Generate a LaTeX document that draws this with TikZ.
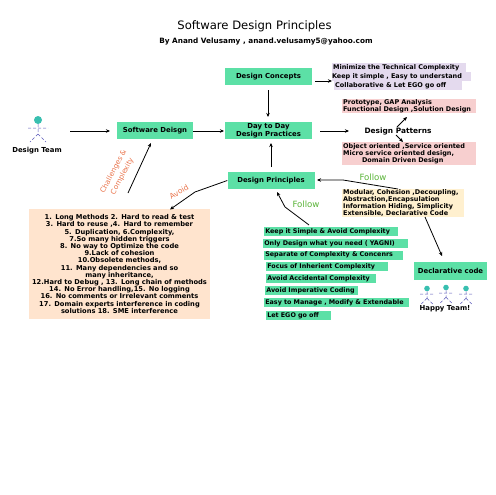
\documentclass[tikz,border=0pt]{standalone}
\usepackage{fontspec}
\setmainfont{DejaVu Sans}
\usetikzlibrary{arrows.meta}
\definecolor{boxgreen}{HTML}{5CE0A6}
\definecolor{notepurple}{HTML}{E4DAEE}
\definecolor{notered}{HTML}{F7CFCF}
\definecolor{noteyellow}{HTML}{FFF0CF}
\definecolor{noteorange}{HTML}{FFE4CE}
\definecolor{labelorange}{HTML}{E9744C}
\definecolor{labelgreen}{HTML}{58B336}
\definecolor{stickblue}{HTML}{5A58B8}
\definecolor{stickhead}{HTML}{38BFB0}

\begin{document}
\begin{tikzpicture}[x=1pt,y=-1pt,
  concept/.style={rectangle, fill=boxgreen, minimum width=#1, minimum height=17.5pt, inner sep=0pt, align=center, font=\fontsize{6.9}{8}\selectfont\bfseries},
  strip/.style={rectangle, fill=boxgreen, anchor=west, text width=#1, minimum height=9pt, inner sep=0pt, align=left, font=\fontsize{6.4}{7}\selectfont\bfseries},
  note/.style={rectangle, fill=#1, inner sep=0pt, align=left, font=\fontsize{6.5}{7.2}\selectfont\bfseries},
  plain/.style={inner sep=0pt, align=center, font=\fontsize{6.9}{8}\selectfont\bfseries},
  tag/.style={inner sep=0pt, align=center, font=\fontsize{#1}{10}\selectfont},
  arr/.style={-{Stealth[length=4pt,width=3.5pt]}, line width=0.8pt, black},
  pics/stickman/.style={code={
    \fill[stickhead] (0,-#1*10) circle (#1*4pt);
    \draw[stickblue, densely dashed, line width=0.5pt] (0,-#1*6) -- (0,#1*4) (-#1*10,-#1*2) -- (#1*10,-#1*2) (0,#1*4) -- (-#1*8,#1*12) (0,#1*4) -- (#1*8,#1*12);
  }}
]
  \useasboundingbox (0,0) rectangle (495,495);

  \node[plain, font=\fontsize{11.6}{13}\selectfont] (title) at (254.5,26) {Software Design Principles};
  \node[plain, font=\fontsize{7.3}{8}\selectfont\bfseries] (author) at (266,42) {By Anand Velusamy , anand.velusamy5@yahoo.com};

  \node[concept=87pt] (concepts) at (268.5,76.5) {Design Concepts};
  \node[concept=87pt] (practices) at (268.5,130.5) {Day to Day\\Design Practices};
  \node[concept=76pt] (software) at (155,130.5) {Software Deisgn};
  \node[concept=87pt] (principles) at (271,180.5) {Design Principles};
  \node[concept=73pt] (declarative) at (450.5,271) {Declarative code};

  \node[note=notepurple, text width=134pt, minimum height=9.2pt] (min) at (399,67.5) {\,Minimize the Technical Complexity};
  \node[note=notepurple, text width=139pt, minimum height=9.2pt] (simple) at (401.5,76.5) {Keep it simple , Easy to understand};
  \node[note=notepurple, text width=128pt, minimum height=9.2pt] (collab) at (398,85.5) {\,Collaborative \& Let EGO go off};

  \node[note=notered, text width=134pt, minimum height=14pt] (proto) at (409,106) {\,Prototype, GAP Analysis\\\,Functional Design ,Solution Design};
  \node[note=notered, text width=134pt, minimum height=23pt] (object) at (409,153.5) {\,Object oriented ,Service oriented\\\,Micro service oriented design,\\\hspace*{20pt}Domain Driven Design};
  \node[plain, font=\fontsize{7.4}{8}\selectfont\bfseries] (patterns) at (398,131) {Design Patterns};

  \node[note=noteyellow, text width=122pt, minimum height=28pt] (modular) at (403,203) {\,Modular, Cohesion ,Decoupling,\\\,Abstraction,Encapsulation\\\,Information Hiding, Simplicity\\\,Extensible, Declarative Code};

  \node[note=noteorange, align=center, text width=181pt, minimum height=110pt, font=\fontsize{6.7}{7.2}\selectfont\bfseries] (avoidbox) at (119.5,264) {1. Long Methods 2. Hard to read \& test\\3. Hard to reuse ,4. Hard to remember\\5. Duplication, 6.Complexity,\\7.So many hidden triggers\\8. No way to Optimize the code\\9.Lack of cohesion\\10.Obsolete methods,\\11. Many dependencies and so\\many inheritance,\\12.Hard to Debug , 13. Long chain of methods\\14. No Error handling,15. No logging\\16. No comments or Irrelevant comments\\17. Domain experts interference in coding\\solutions 18. SME interference};

  \node[strip=134pt] (s1) at (264,231.5) {\,Keep it Simple \& Avoid Complexity};
  \node[strip=145pt] (s2) at (263,243.5) {\,Only Design what you need ( YAGNI)};
  \node[strip=139pt] (s3) at (264,255) {\,Separate of Complexity \& Concenrs};
  \node[strip=122pt] (s4) at (266,266.5) {\,Focus of Inherient Complexity};
  \node[strip=110pt] (s5) at (266,278.5) {\,Avoid Accidental Complexity};
  \node[strip=93pt]  (s6) at (265,290.5) {\,Avoid Imperative Coding};
  \node[strip=145pt] (s7) at (264,302.5) {\,Easy to Manage , Modify \& Extendable};
  \node[strip=65pt]  (s8) at (266,315.5) {\,Let EGO go off};

  \pic at (38,130) {stickman=1};
  \node[plain] (team) at (37,150.5) {Design Team};
  \pic at (427,295.5) {stickman=0.7};
  \pic at (446,294.5) {stickman=0.7};
  \pic at (466,295.5) {stickman=0.7};
  \node[plain] (happy) at (445,309) {Happy Team!};

  \node[tag=8.6, text=labelgreen] (follow1) at (373,177) {Follow};
  \node[tag=8.6, text=labelgreen] (follow2) at (306,204) {Follow};
  \node[tag=7.5, text=labelorange, rotate=30] (avoid) at (179,192) {Avoid};
  \node[tag=7.2, text=labelorange, rotate=62] (challenges) at (118,174) {Challenges \&\\Complexity};

  \coordinate (teamout) at (70,131);
  \coordinate (challengesout) at (128,193);
  \coordinate (softwarein) at (151,143);
  \coordinate (conceptsout) at (268,90);
  \coordinate (practicesin) at (268,117);
  \coordinate (principlesout) at (271,167);
  \coordinate (practicesup) at (271,143);
  \coordinate (modularout) at (425,217);
  \coordinate (declarativein) at (442,256);
  \coordinate (modulartop) at (398,189);
  \coordinate (modularbend) at (343,180);
  \coordinate (principlesright) at (317,180);
  \coordinate (stripstop) at (309,225);
  \coordinate (stripsbend) at (285,207);
  \coordinate (principlesin) at (277,192);
  \coordinate (avoidbend) at (195,192);
  \coordinate (avoidin) at (170,209.5);
  \coordinate (minin) at (332,81);
  \coordinate (conceptsright) at (315,81);
  \coordinate (practicesright) at (320,131);
  \coordinate (patternsin) at (349,131);
  \coordinate (patternsup) at (397,127);
  \coordinate (protoin) at (407,117);
  \coordinate (patternsdown) at (396,135);
  \coordinate (objectin) at (403,142);
  \coordinate (softwareright) at (193,131);
  \coordinate (practicesleft) at (224,131);
  \coordinate (softwareleft) at (110,131);

  \draw[arr] (teamout) -- (softwareleft);
  \draw[arr] (softwareright) -- (practicesleft);
  \draw[arr] (conceptsout) -- (practicesin);
  \draw[arr] (principlesout) -- (practicesup);
  \draw[arr] (conceptsright) -- (minin);
  \draw[arr] (practicesright) -- (patternsin);
  \draw[arr] (patternsup) -- (protoin);
  \draw[arr] (patternsdown) -- (objectin);
  \draw[arr] (modulartop) -- (modularbend) -- (principlesright);
  \draw[arr] (stripstop) -- (stripsbend) -- (principlesin);
  \draw[arr] (modularout) -- (declarativein);
  \draw[arr] (principles.west) -- (avoidbend) -- (avoidin);
  \draw[arr] (challengesout) -- (softwarein);
\end{tikzpicture}
\end{document}
